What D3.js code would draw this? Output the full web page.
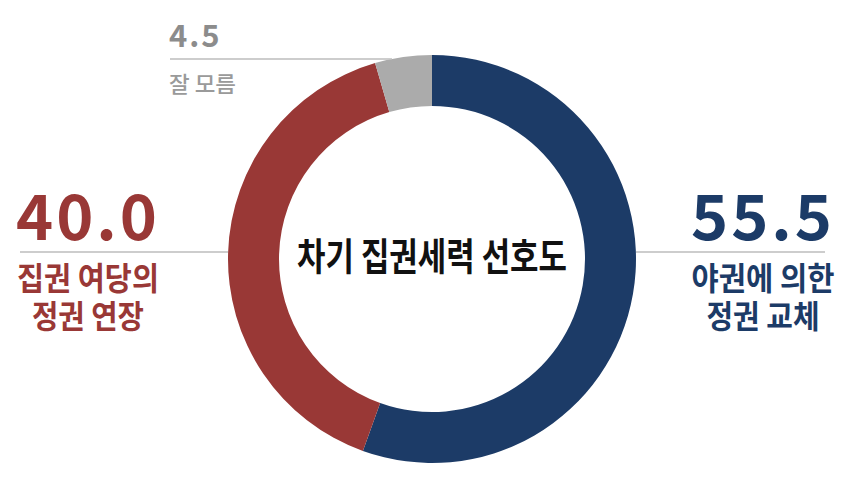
<!DOCTYPE html>
<html>
<head>
<meta charset="utf-8">
<script src="https://cdn.jsdelivr.net/npm/d3@7"></script>
<style>
  html, body { margin: 0; padding: 0; background: #fff; }
  text { font-family: "Noto Sans CJK KR", "Noto Sans", sans-serif; }
</style>
</head>
<body>
<div id="chart"></div>
<script>
const width = 860;
const height = 484;

// data
const title = '차기 집권세력 선호도';
const categories = ['야권에 의한 정권 교체', '집권 여당의 정권 연장', '잘 모름'];
const labelLines = [['야권에 의한', '정권 교체'], ['집권 여당의', '정권 연장'], ['잘 모름']];
const values = [55.5, 40.0, 4.5];
const colors = ['#1c3b67', '#993836', '#ababab'];

const cx = 432, cy = 259;
const outerR = 204, innerR = 153;

const svg = d3.select('#chart')
    .append('svg')
    .attr('width', width)
    .attr('height', height);

const pie = d3.pie()
    .sort(null)
    .value(d => d.value);

const arc = d3.arc()
    .innerRadius(innerR)
    .outerRadius(outerR);

const data = categories.map((c, i) => ({ name: c, value: values[i], color: colors[i], lines: labelLines[i] }));

const g = svg.append('g').attr('transform', `translate(${cx},${cy})`);

g.selectAll('path')
    .data(pie(data))
    .enter()
    .append('path')
    .attr('d', arc)
    .attr('fill', d => d.data.color);

// leader lines
const lineColor = '#bdbdbd';
svg.append('line')
    .attr('x1', 20).attr('x2', cx - outerR)
    .attr('y1', 252).attr('y2', 252)
    .attr('stroke', lineColor).attr('stroke-width', 1.5);
svg.append('line')
    .attr('x1', cx + outerR).attr('x2', 825)
    .attr('y1', 252).attr('y2', 252)
    .attr('stroke', lineColor).attr('stroke-width', 1.5);
svg.append('line')
    .attr('x1', 170).attr('x2', 392)
    .attr('y1', 59).attr('y2', 59)
    .attr('stroke', lineColor).attr('stroke-width', 1.5);

// big value labels
const labelPos = [
    { x: 763, anchor: 'middle', numY: 240, numSize: 63, ls: 3, lineY: [290, 328], lineSize: 32, lineW: [143, 113], textColor: colors[0] },
    { x: 88, anchor: 'middle', numY: 240, numSize: 63, ls: 3, lineY: [290, 328], lineSize: 32, lineW: [142, 112], textColor: colors[1] },
    { x: 169, anchor: 'start', numY: 47, numSize: 31, ls: 2, lineY: [92], lineSize: 22, lineW: [67], textColor: '#8c8c8c' }
];

data.forEach((d, i) => {
    const p = labelPos[i];
    svg.append('text')
        .attr('x', p.x)
        .attr('y', p.numY)
        .attr('text-anchor', p.anchor)
        .attr('fill', p.textColor)
        .attr('font-size', p.numSize)
        .attr('font-weight', 700)
        .attr('letter-spacing', p.ls)
        .text(d.value.toFixed(1));
    d.lines.forEach((line, j) => {
        svg.append('text')
            .attr('x', p.x)
            .attr('y', p.lineY[j])
            .attr('text-anchor', p.anchor)
            .attr('fill', i === 2 ? '#9a9a9a' : p.textColor)
            .attr('font-size', p.lineSize)
            .attr('font-weight', i === 2 ? 500 : 700)
            .attr('textLength', p.lineW[j])
            .attr('lengthAdjust', 'spacingAndGlyphs')
            .text(line);
    });
});

// center title
svg.append('text')
    .attr('x', cx)
    .attr('y', 270)
    .attr('text-anchor', 'middle')
    .attr('fill', '#111')
    .attr('font-size', 38)
    .attr('font-weight', 700)
    .attr('textLength', 270)
    .attr('lengthAdjust', 'spacingAndGlyphs')
    .text(title);
</script>
</body>
</html>
